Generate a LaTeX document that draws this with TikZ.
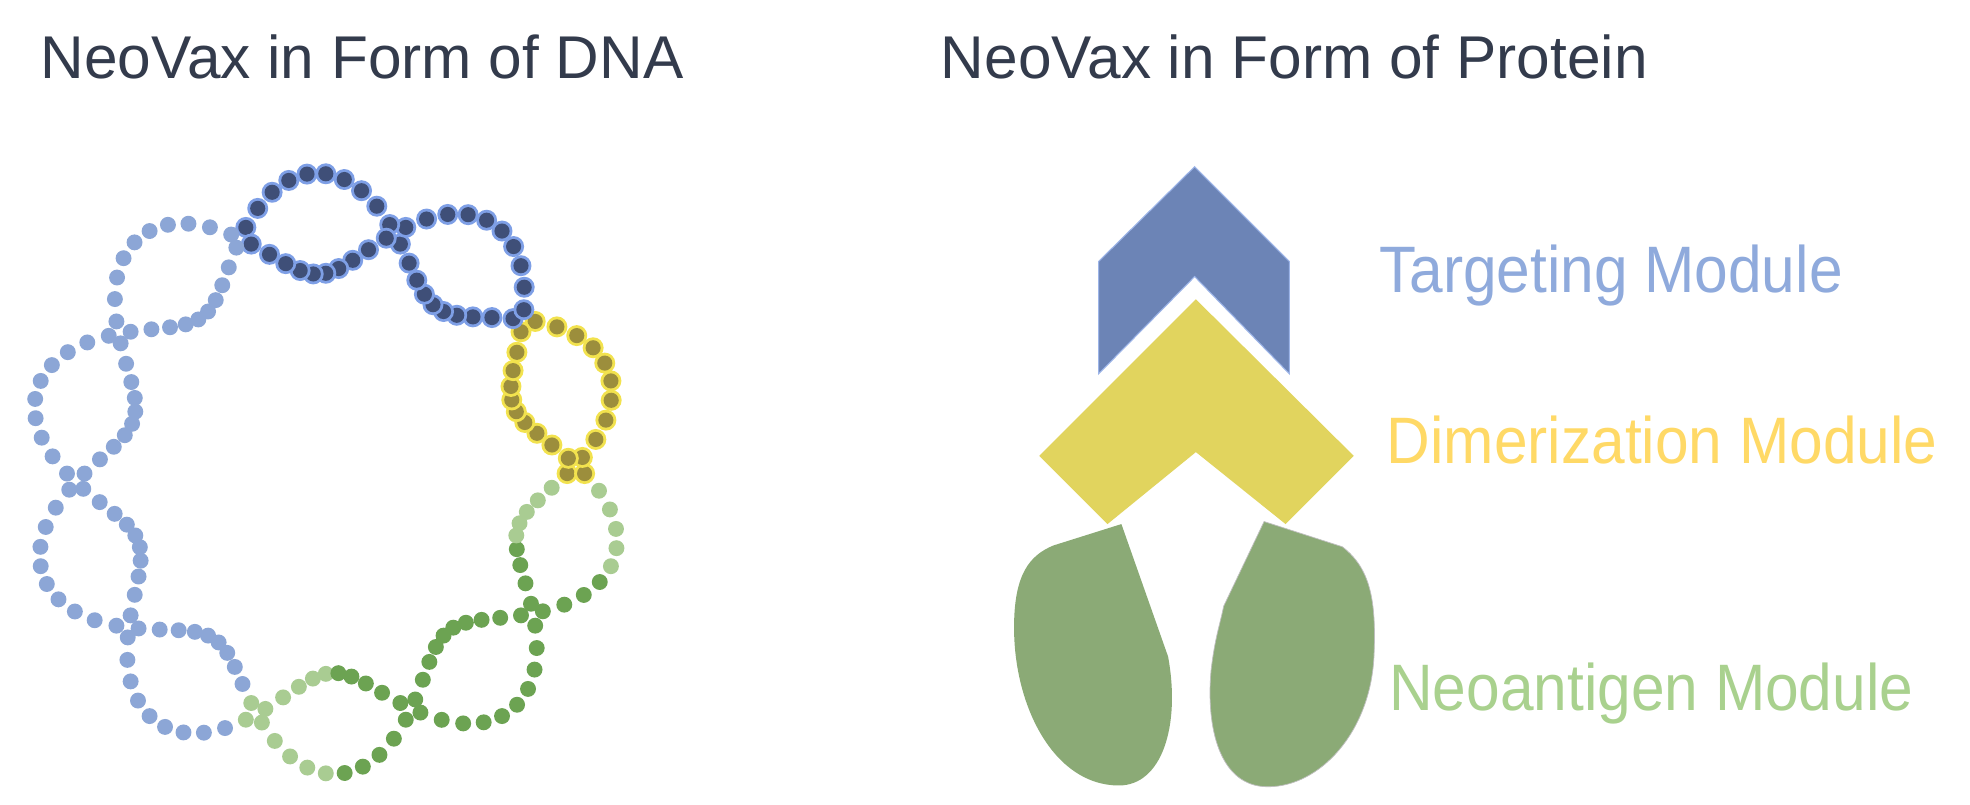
\documentclass[tikz,border=0pt]{standalone}
\usepackage{fontspec}
\setmainfont{Liberation Sans}
\definecolor{ttl}{HTML}{333B4C}
\definecolor{dkb}{HTML}{3F4F78}
\definecolor{halob}{HTML}{7E9FE6}
\definecolor{ltb}{HTML}{8CA6D6}
\definecolor{olv}{HTML}{9C8E3C}
\definecolor{haloy}{HTML}{F2E24E}
\definecolor{grn}{HTML}{6CA352}
\definecolor{lgrn}{HTML}{A9CC92}
\definecolor{chev}{HTML}{6C84B6}
\definecolor{chevl}{HTML}{9CB4E8}
\definecolor{ylw}{HTML}{E1D45E}
\definecolor{blob}{HTML}{8BAA76}
\definecolor{tgt}{HTML}{8FAADC}
\definecolor{dim}{HTML}{FFD966}
\definecolor{neo}{HTML}{A9D18E}
\begin{document}
\begin{tikzpicture}[x=0.05cm,y=-0.05cm,
  ttlstyle/.style={anchor=base west,inner sep=0,text=ttl,font=\fontsize{68}{74}\selectfont},
  lblstyle/.style={anchor=base west,inner sep=0,xscale=0.92,font=\fontsize{74}{80}\selectfont}]
\useasboundingbox[fill=white] (0,0) rectangle (1560,637);
\node[ttlstyle] (t1) at (32,62) {NeoVax in Form of DNA};
\node[ttlstyle] (t2) at (745,62) {NeoVax in Form of Protein};
% ring
\foreach \t in {0,3.6,...,357}{
 \foreach \s in {1,-1}{
  \pgfmathsetmacro\r{198+\s*40*sin(5*(\t-2))}
  \pgfmathsetmacro\px{258+\r*cos(\t)}
  \pgfmathsetmacro\py{375-\r*sin(\t)}
  \pgfmathtruncatemacro\c{(\t<38)?1:((\t<110)?2:((\t<250)?3:((\t<272)?4:((\t<342)?5:4))))}
  \ifcase\c
  \or \fill[haloy] (\px,\py) circle (8.3); \fill[olv] (\px,\py) circle (6);
  \or \fill[halob] (\px,\py) circle (8.3); \fill[dkb] (\px,\py) circle (6);
  \or \fill[ltb] (\px,\py) circle (6.3);
  \or \fill[lgrn] (\px,\py) circle (6.3);
  \or \fill[grn] (\px,\py) circle (6.3);
  \fi
 }}
% protein
\draw[fill=chev,draw=chevl,line width=1.2pt] (946,132) -- (1021,207) -- (1021,296) -- (946,219) -- (870,296) -- (870,207) -- cycle;
\fill[ylw] (947,237) -- (1072,361) -- (1018,415) -- (947,358) -- (877,415) -- (823,361) -- cycle;
\fill[blob] (888,415) -- (925,520) .. controls (935,575) and (920,622) .. (886,622)
  .. controls (835,622) and (803,560) .. (803,497)
  .. controls (803,455) and (815,440) .. (834,432) -- cycle;
\draw[fill=blob,draw=black!25,line width=0.8pt] (1001,413) -- (1063,433)
  .. controls (1085,450) and (1090,475) .. (1088,520)
  .. controls (1085,580) and (1045,623) .. (1004,623)
  .. controls (965,623) and (955,575) .. (959,531)
  .. controls (962,505) and (966,495) .. (969,480) -- cycle;
\node[lblstyle,text=tgt] (l1) at (1092,232) {Targeting Module};
\node[lblstyle,text=dim] (l2) at (1098,367) {Dimerization Module};
\node[lblstyle,text=neo] (l3) at (1100,563) {Neoantigen Module};
\end{tikzpicture}
\end{document}
